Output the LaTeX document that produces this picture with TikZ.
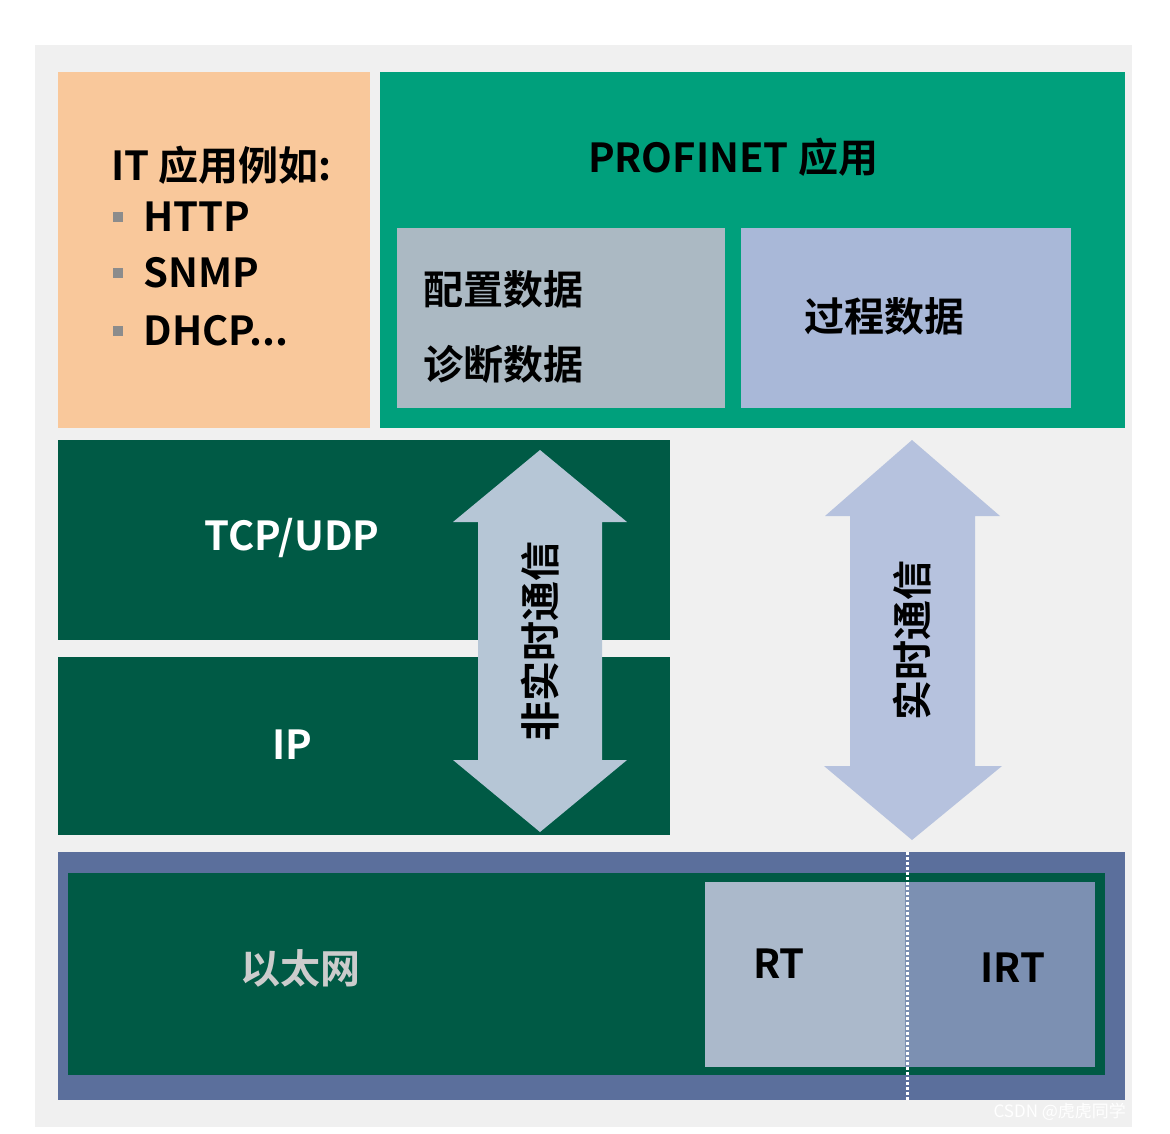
\documentclass[tikz,border=0pt]{standalone}
\usepackage{fontspec}
\setmainfont{Noto Sans CJK SC}[BoldFont={* Bold}]
\definecolor{orangebox}{HTML}{F9C89B}
\definecolor{pngreen}{HTML}{00A07C}
\definecolor{dkgreen}{HTML}{005A45}
\definecolor{graybox}{HTML}{ABB9C3}
\definecolor{bluebox}{HTML}{A9B8D8}
\definecolor{ethblue}{HTML}{5B6F9C}
\definecolor{rtbox}{HTML}{ABB9CB}
\definecolor{irtbox}{HTML}{7C90B2}
\definecolor{arrowc}{HTML}{B6C6D6}
\definecolor{arrowc2}{HTML}{B6C2DE}
\begin{document}
\begin{tikzpicture}[x=1pt,y=-1pt,
  lbl/.style={font=\bfseries\fontsize{40}{46}\selectfont},
  box/.style={draw=none,inner sep=0pt},
  bullet/.style={fill=black!45,minimum size=10pt,inner sep=0pt}]
\useasboundingbox (0,0) rectangle (1170,1133);
\fill[white] (0,0) rectangle (1170,1133);
\fill[black!6] (35,45) rectangle (1132,1127);
\node[box,fill=orangebox,minimum width=312pt,minimum height=356pt,anchor=north west] (it) at (58,72) {};
\node[box,fill=pngreen,minimum width=745pt,minimum height=356pt,anchor=north west] (pn) at (380,72) {};
\node[box,fill=graybox,minimum width=328pt,minimum height=180pt,anchor=north west] (cfg) at (397,228) {};
\node[box,fill=bluebox,minimum width=330pt,minimum height=180pt,anchor=north west] (proc) at (741,228) {};
\node[box,fill=dkgreen,minimum width=612pt,minimum height=200pt,anchor=north west] (tcp) at (58,440) {};
\node[box,fill=dkgreen,minimum width=612pt,minimum height=178pt,anchor=north west] (ip) at (58,657) {};
\node[box,fill=ethblue,minimum width=1067pt,minimum height=248pt,anchor=north west] (eth) at (58,852) {};
\node[box,fill=dkgreen,minimum width=1037pt,minimum height=202pt,anchor=north west] (ethin) at (68,873) {};
\node[box,fill=rtbox,minimum width=200pt,minimum height=185pt,anchor=north west] (rt) at (705,882) {};
\node[box,fill=irtbox,minimum width=190pt,minimum height=185pt,anchor=north west] (irt) at (905,882) {};
\coordinate (d1) at (907,852); \coordinate (d2) at (907,1100);
\draw[white,line width=3pt,dotted] (d1) -- (d2);
\fill[arrowc] (540,450) -- (627,522) -- (602,522) -- (602,760) -- (627,760) -- (540,832)
  -- (453,760) -- (478,760) -- (478,522) -- (453,522) -- cycle;
\fill[arrowc2] (912,440) -- (1000,516) -- (975,516) -- (975,766) -- (1002,766) -- (912,840)
  -- (824,766) -- (850,766) -- (850,516) -- (825,516) -- cycle;
\node[lbl,rotate=90] (a1) at (540,641) {非实时通信};
\node[lbl,rotate=90] (a2) at (912,640) {实时通信};
\node[lbl,anchor=west] (itt) at (108,165) {IT 应用例如:};
\node[bullet] (b1) at (118,217) {};
\node[bullet] (b2) at (118,273) {};
\node[bullet] (b3) at (118,331) {};
\node[lbl,anchor=west] at (140,217) {HTTP};
\node[lbl,anchor=west] at (140,273) {SNMP};
\node[lbl,anchor=west] at (140,331) {DHCP...};
\node[lbl] (pnt) at (733,157) {PROFINET 应用};
\node[lbl,anchor=west] at (420,289) {配置数据};
\node[lbl,anchor=west] at (420,364) {诊断数据};
\node[lbl] at (884,316) {过程数据};
\node[lbl,white] at (292,538) {TCP/UDP};
\node[lbl,white] at (292,745) {IP};
\node[lbl,black!20] at (300,968) {以太网};
\node[lbl] at (779,964) {RT};
\node[lbl] at (1013,968) {IRT};
\node[font=\fontsize{17}{20}\selectfont,white,anchor=west] at (990,1112) {CSDN @虎虎同学};
\end{tikzpicture}
\end{document}
